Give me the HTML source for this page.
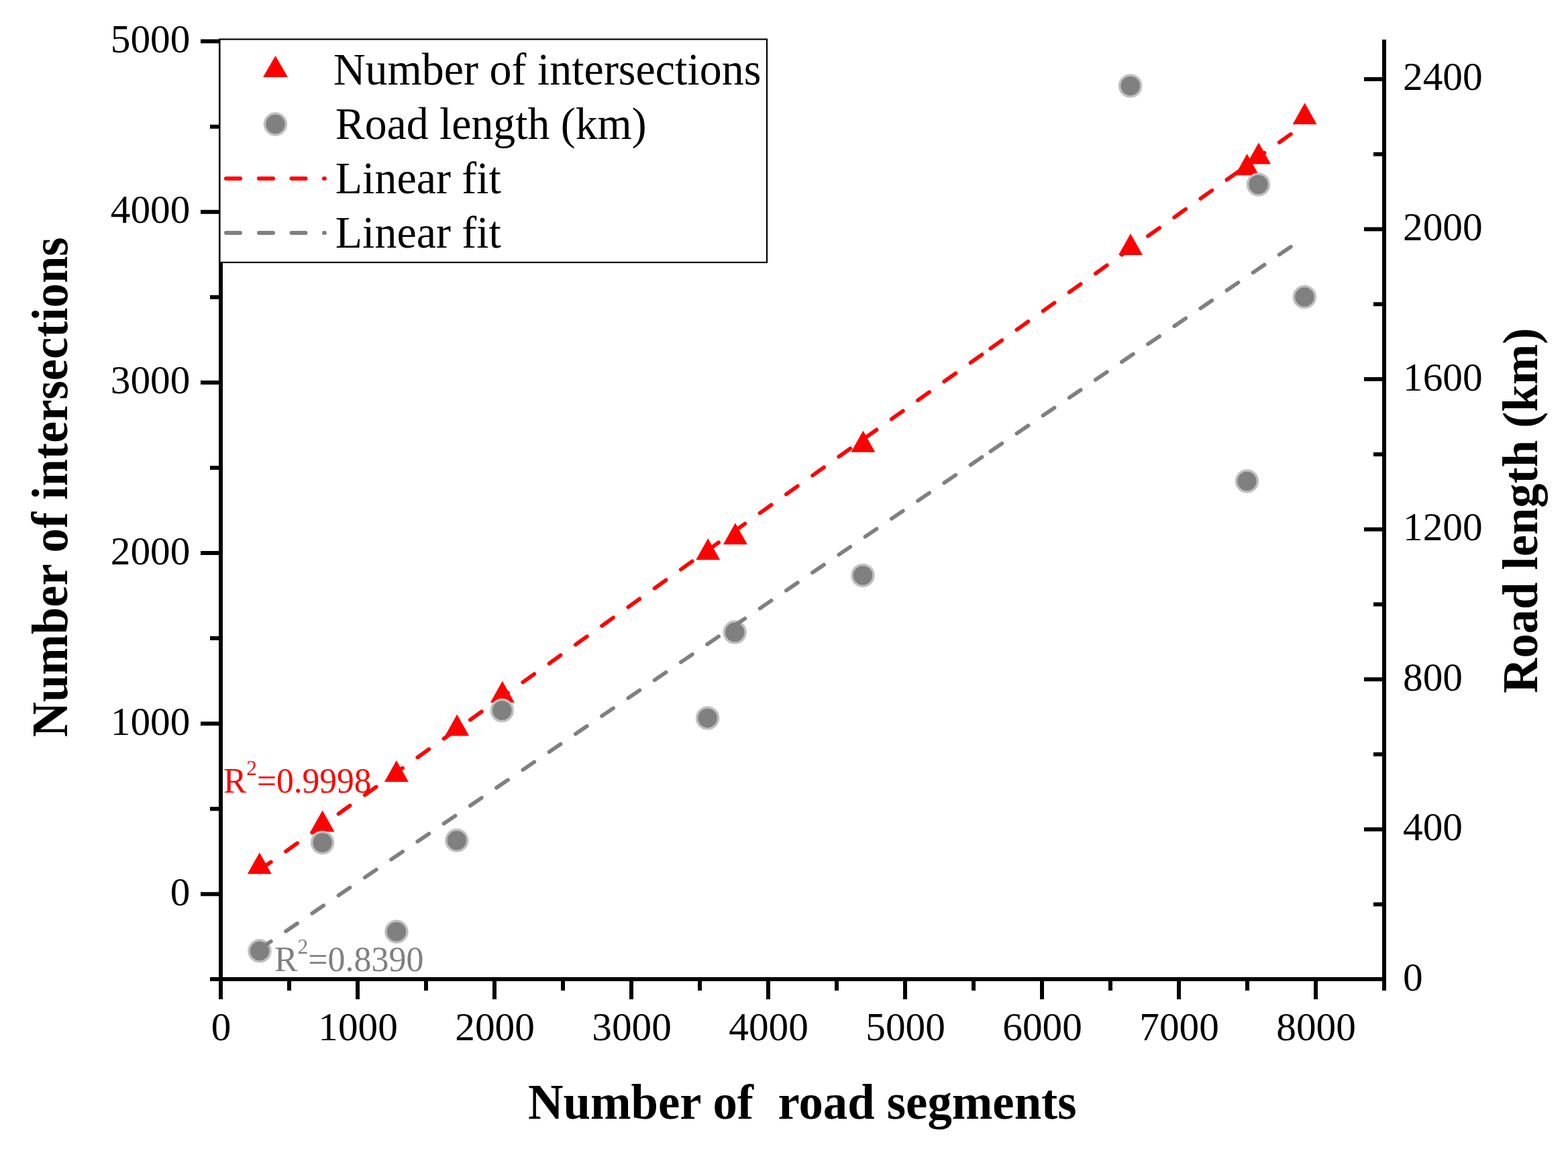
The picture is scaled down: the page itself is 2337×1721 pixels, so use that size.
<!DOCTYPE html>
<html><head><meta charset="utf-8"><title>Number of intersections and road length vs number of road segments</title>
<style>
html,body{margin:0;padding:0;background:#fff;}
body{width:2337px;height:1721px;overflow:hidden;}
svg{display:block;}
text{font-family:"Liberation Serif","Times New Roman",serif;white-space:pre;}
.t{font-size:59.3px;fill:#000;}
.r{font-size:52px;}
.sup{font-size:31.6px;}
.lg{font-size:67.2px;fill:#000;}
.ti{font-size:75px;font-weight:bold;fill:#000;}
.tl{font-size:75.5px;}
</style></head>
<body>
<svg width="2337" height="1721" viewBox="0 0 2337 1721">
<rect width="2337" height="1721" fill="#fff"/>
<path d="M329 59V1462M2063 59V1462M326 1459H2066" stroke="#000" stroke-width="6" fill="none"/>
<path d="M299 1332.3H329M299 1078.16H329M299 824.02H329M299 569.88H329M299 315.74H329M299 61.6H329M313 1459H329M313 1205.23H329M313 951.09H329M313 696.95H329M313 442.81H329M313 188.67H329M329 1459V1489M533 1459V1489M737 1459V1489M941 1459V1489M1145 1459V1489M1349 1459V1489M1553 1459V1489M1757 1459V1489M1961 1459V1489M431 1459V1476M635 1459V1476M839 1459V1476M1043 1459V1476M1247 1459V1476M1451 1459V1476M1655 1459V1476M1859 1459V1476M2063 1459V1476M2033 1235.83H2063M2033 1012.26H2063M2033 788.69H2063M2033 565.12H2063M2033 341.55H2063M2033 117.98H2063M2047 1347.62H2063M2047 1124.05H2063M2047 900.48H2063M2047 676.91H2063M2047 453.34H2063M2047 229.77H2063" stroke="#000" stroke-width="6" fill="none"/>
<text x="283.4" y="1348.8" text-anchor="end" class="t">0</text>
<text x="283.4" y="1094.66" text-anchor="end" class="t">1000</text>
<text x="283.4" y="840.52" text-anchor="end" class="t">2000</text>
<text x="283.4" y="586.38" text-anchor="end" class="t">3000</text>
<text x="283.4" y="332.24" text-anchor="end" class="t">4000</text>
<text x="283.4" y="78.1" text-anchor="end" class="t">5000</text>
<text x="329.6" y="1550.4" text-anchor="middle" class="t">0</text>
<text x="533.6" y="1550.4" text-anchor="middle" class="t">1000</text>
<text x="737.6" y="1550.4" text-anchor="middle" class="t">2000</text>
<text x="941.6" y="1550.4" text-anchor="middle" class="t">3000</text>
<text x="1145.6" y="1550.4" text-anchor="middle" class="t">4000</text>
<text x="1349.6" y="1550.4" text-anchor="middle" class="t">5000</text>
<text x="1553.6" y="1550.4" text-anchor="middle" class="t">6000</text>
<text x="1757.6" y="1550.4" text-anchor="middle" class="t">7000</text>
<text x="1961.6" y="1550.4" text-anchor="middle" class="t">8000</text>
<text x="2091" y="1475.9" class="t">0</text>
<text x="2091" y="1252.33" class="t">400</text>
<text x="2091" y="1028.76" class="t">800</text>
<text x="2091" y="805.19" class="t">1200</text>
<text x="2091" y="581.62" class="t">1600</text>
<text x="2091" y="358.05" class="t">2000</text>
<text x="2091" y="134.48" class="t">2400</text>
<path d="M386.8 1270.35L404.8 1302.35H368.8ZM480.6 1207.4L498.6 1239.4H462.6ZM590.9 1133L608.9 1165H572.9ZM681.2 1064.4L699.2 1096.4H663.2ZM748.8 1014.7L766.8 1046.7H730.8ZM1055.2 802.3L1073.2 834.3H1037.2ZM1095.9 779.3L1113.9 811.3H1077.9ZM1286.4 641.65L1304.4 673.65H1268.4ZM1685 347.9L1703 379.9H1667ZM1858.6 229.25L1876.6 261.25H1840.6ZM1876 212.55L1894 244.55H1858ZM1944.6 153.35L1962.6 185.35H1926.6Z" fill="#f00"/>
<path d="M386.8 1296.59L403.8 1284.47M426.05 1268.59L443.05 1256.46M465.3 1240.58L482.3 1228.46M504.55 1212.58L521.55 1200.45M543.8 1184.57L560.8 1172.44M583.05 1156.57L600.05 1144.44M622.3 1128.56L639.3 1116.43M661.55 1100.56L678.55 1088.43M700.8 1072.55L717.8 1060.42M740.05 1044.55L757.05 1032.42M779.3 1016.54L796.3 1004.41M818.55 988.54L835.55 976.41M857.8 960.53L874.8 948.4M897.05 932.53L914.05 920.4M936.3 904.52L953.3 892.39M975.55 876.52L992.55 864.39M1014.8 848.51L1031.8 836.38M1054.05 820.51L1071.05 808.38M1093.3 792.5L1110.3 780.37M1132.55 764.5L1149.55 752.37M1171.8 736.49L1188.8 724.36M1211.05 708.49L1228.05 696.36M1250.3 680.48L1267.3 668.35M1289.55 652.48L1306.55 640.35M1328.8 624.47L1345.8 612.34M1368.05 596.47L1385.05 584.34M1407.3 568.46L1424.3 556.33M1446.55 540.46L1463.55 528.33M1476.3 519.23L1493.3 507.1M1515.43 491.31L1532.43 479.18M1554.56 463.39L1571.56 451.26M1593.69 435.47L1610.69 423.34M1632.82 407.55L1649.82 395.42M1671.95 379.63L1688.95 367.51M1711.08 351.72L1728.08 339.59M1750.21 323.8L1767.21 311.67M1789.34 295.88L1806.34 283.75M1828.47 267.96L1845.47 255.83M1867.6 240.04L1884.6 227.91M1906.73 212.12L1923.73 199.99" stroke="#f00" stroke-width="5.8" stroke-linecap="round" fill="none"/>
<circle cx="387" cy="1417" r="16" fill="#808080" stroke="#c0c0c0" stroke-width="3.5"/>
<circle cx="480.6" cy="1255.6" r="16" fill="#808080" stroke="#c0c0c0" stroke-width="3.5"/>
<circle cx="590.9" cy="1388.2" r="16" fill="#808080" stroke="#c0c0c0" stroke-width="3.5"/>
<circle cx="680.8" cy="1252.2" r="16" fill="#808080" stroke="#c0c0c0" stroke-width="3.5"/>
<circle cx="748.3" cy="1058.6" r="16" fill="#808080" stroke="#c0c0c0" stroke-width="3.5"/>
<circle cx="1054.6" cy="1069.9" r="16" fill="#808080" stroke="#c0c0c0" stroke-width="3.5"/>
<circle cx="1095.2" cy="942.1" r="16" fill="#808080" stroke="#c0c0c0" stroke-width="3.5"/>
<circle cx="1286" cy="857.4" r="16" fill="#808080" stroke="#c0c0c0" stroke-width="3.5"/>
<circle cx="1684.7" cy="127.9" r="16" fill="#808080" stroke="#c0c0c0" stroke-width="3.5"/>
<circle cx="1858.5" cy="717" r="16" fill="#808080" stroke="#c0c0c0" stroke-width="3.5"/>
<circle cx="1875.5" cy="274.9" r="16" fill="#808080" stroke="#c0c0c0" stroke-width="3.5"/>
<circle cx="1944.3" cy="442.5" r="16" fill="#808080" stroke="#c0c0c0" stroke-width="3.5"/>
<path d="M386.8 1414.28L403.8 1402.71M426.05 1387.56L443.05 1375.99M465.3 1360.84L482.3 1349.26M504.55 1334.11L521.55 1322.54M543.8 1307.39L560.8 1295.81M583.05 1280.66L600.05 1269.09M622.3 1253.94L639.3 1242.37M661.55 1227.22L678.55 1215.64M700.8 1200.49L717.8 1188.92M740.05 1173.77L757.05 1162.19M779.3 1147.04L796.3 1135.47M818.55 1120.32L835.55 1108.75M857.8 1093.6L874.8 1082.02M897.05 1066.87L914.05 1055.3M936.3 1040.15L953.3 1028.57M975.55 1013.42L992.55 1001.85M1014.8 986.7L1031.8 975.13M1054.05 959.98L1071.05 948.4M1093.3 933.25L1110.3 921.68M1132.55 906.53L1149.55 894.95M1171.8 879.8L1188.8 868.23M1211.05 853.08L1228.05 841.51M1250.3 826.36L1267.3 814.78M1289.55 799.63L1306.55 788.06M1328.8 772.91L1345.8 761.33M1368.05 746.18L1385.05 734.61M1407.3 719.46L1424.3 707.89M1446.55 692.74L1463.55 681.16M1476.3 672.48L1493.3 660.91M1515.43 645.84L1532.43 634.26M1554.56 619.2L1571.56 607.62M1593.69 592.55L1610.69 580.98M1632.82 565.91L1649.82 554.34M1671.95 539.27L1688.95 527.69M1711.08 512.63L1728.08 501.05M1750.21 485.98L1767.21 474.41M1789.34 459.34L1806.34 447.77M1828.47 432.7L1845.47 421.13M1867.6 406.06L1884.6 394.48M1906.73 379.42L1923.73 367.84" stroke="#808080" stroke-width="5.8" stroke-linecap="round" fill="none"/>
<text transform="translate(332.91 1181) scale(0.9905 1)" class="r" fill="#f00">R<tspan class="sup" dy="-26">2</tspan><tspan dy="26">=0.9998</tspan></text>
<text transform="translate(408.9 1446.8) scale(0.9986 1)" class="r" fill="#808080">R<tspan class="sup" dy="-26">2</tspan><tspan dy="26">=0.8390</tspan></text>
<rect x="327.5" y="58.5" width="815.5" height="332.5" fill="#fff" stroke="#000" stroke-width="2.2"/>
<path d="M410.5 83L429 115H392Z" fill="#f00"/>
<circle cx="410.4" cy="185" r="16" fill="#808080" stroke="#c0c0c0" stroke-width="3.5"/>
<path d="M337 266H358M386 266H407M434.5 266H455.5M482.9 266H483.9" stroke="#f00" stroke-width="6" stroke-linecap="round"/>
<path d="M337 347H358M386 347H407M434.5 347H455.5M482.9 347H483.9" stroke="#808080" stroke-width="6" stroke-linecap="round"/>
<text transform="translate(496.94 125.8) scale(0.9816 1)" class="lg">Number of intersections</text>
<text transform="translate(499.84 207.1) scale(0.9783 1)" class="lg">Road length (km)</text>
<text transform="translate(499.84 288.1) scale(0.9812 1)" class="lg">Linear fit</text>
<text transform="translate(499.84 369.2) scale(0.9812 1)" class="lg">Linear fit</text>
<text transform="translate(99.6 1098.56) rotate(-90) scale(0.9623 1)" class="ti tl">Number of intersections</text>
<text transform="translate(786.93 1666.9) scale(0.9702 1)" class="ti" xml:space="preserve">Number of  road segments</text>
<text transform="translate(2290.9 1032.97) rotate(-90) scale(0.9680 1)" class="ti">Road length (km)</text>
</svg>
</body></html>
